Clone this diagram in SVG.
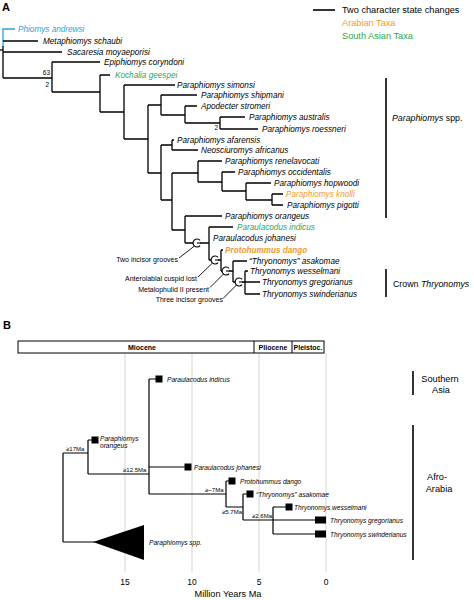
<svg xmlns="http://www.w3.org/2000/svg" width="474" height="600" viewBox="0 0 474 600">
<style>
text{font-family:"Liberation Sans",Arial,sans-serif;fill:#000}
.br{fill:none;stroke:#000;stroke-width:1.3}
.bb{fill:none;stroke:#000;stroke-width:1.2}
.tip{font-style:italic;font-size:8.2px}
.ann{font-size:7px;text-anchor:end}
.sup{font-size:6.5px;text-anchor:end}
.bar{stroke:#000;stroke-width:1.6}
.leg{font-size:9.2px}
.grp{font-size:8.8px}
.blbl{font-style:italic;font-size:6.6px}
.nl{font-size:6px}
.ep{font-size:7px;font-weight:bold;text-anchor:middle}
.grid{stroke:#dcdcdc;stroke-width:1.2}
.ax{font-size:8.5px;text-anchor:middle}
.reg{font-size:9.2px;text-anchor:middle}
.sq{fill:#000}
.blue{fill:#2f9fd9}
.orange{fill:#f29b2e}
.green{fill:#2fa650}
.circ{fill:#fff;stroke:#000;stroke-width:1.1}
</style>

<!-- Panel A -->
<text x="2" y="11" style="font-size:11px;font-weight:bold">A</text>

<g id="legend">
<line x1="313" y1="10" x2="335" y2="10" class="bar"/>
<text x="342" y="13" class="leg">Two character state changes</text>
<text x="342" y="26" class="leg orange">Arabian Taxa</text>
<text x="342" y="38.5" class="leg green">South Asian Taxa</text>
</g>

<g id="connectors-A">
<path d="M0,50 H3" class="br"/>
<path d="M3,46 V29 H15" fill="none" stroke="#2f9fd9" stroke-width="1.3"/>
<path d="M3,46 V78 M3,41 H38 M3,52 H62 M3,78 H52" class="br"/>
<path d="M52,62 V92 M52,62 H100 M52,92 H100" class="br"/>
<path d="M100,75 V112 M100,75 H110 M100,112 H124" class="br"/>
<path d="M124,85 V139 M124,85 H175 M124,139 H148" class="br"/>
<path d="M148,105 V173 M148,105 H161 M148,173 H161" class="br"/>
<path d="M161,95 V115 M161,95 H197 M161,115 H185" class="br"/>
<path d="M185,106 V123 M185,106 H197 M185,123 H220" class="br"/>
<path d="M220,117 V129 M220,117 H245 M220,129 H258" class="br"/>
<path d="M161,145 V200 M161,145 H172 M161,200 H172" class="br"/>
<path d="M172,140 V150 M172,140 H174 M172,150 H198" class="br"/>
<path d="M172,173 V230 M172,173 H198 M172,230 H185" class="br"/>
<path d="M198,161 V182 M198,161 H222 M198,182 H222" class="br"/>
<path d="M222,172 V191 M222,172 H235 M222,191 H246" class="br"/>
<path d="M246,183 V200 M246,183 H271 M246,200 H272" class="br"/>
<path d="M272,194 V205 M272,194 H283 M272,205 H283" class="br"/>
<path d="M185,216 V243 M185,216 H222 M185,243 H209" class="br"/>
<path d="M209,227 V260 M209,227 H233 M209,260 H221" class="br"/>
<path d="M221,250 V271 M221,250 H223 M221,271 H233" class="br"/>
<path d="M233,261 V282 M233,261 H247 M233,282 H245" class="br"/>
<path d="M245,271 V294 M245,271 H248 M245,282 H260 M245,294 H260" class="br"/>
<!-- annotation leaders -->
<path d="M194.5,246 L179,258 M212.5,263 L198,277 M223.5,274 L210,287.5 M236.5,285 L223,298.5" fill="none" stroke="#000" stroke-width="0.9"/>
</g>

<g id="support">
<text x="50" y="74.5" class="sup">63</text>
<text x="49" y="87" class="sup">2</text>
<text x="218" y="130" class="sup">2</text>
</g>

<g id="char-changes">
<path d="M200.1,240.4 A4,4 0 1 0 200.1,245.6" class="circ"/><line x1="197" y1="243" x2="201" y2="243" stroke="#000" stroke-width="1.1"/>
<path d="M218.1,257.4 A4,4 0 1 0 218.1,262.6" class="circ"/><line x1="215" y1="260" x2="219" y2="260" stroke="#000" stroke-width="1.1"/>
<path d="M229.1,268.4 A4,4 0 1 0 229.1,273.6" class="circ"/><line x1="226" y1="271" x2="230" y2="271" stroke="#000" stroke-width="1.1"/>
<path d="M242.1,279.4 A4,4 0 1 0 242.1,284.6" class="circ"/><line x1="239" y1="282" x2="243" y2="282" stroke="#000" stroke-width="1.1"/>
<text x="178" y="261.5" class="ann">Two incisor grooves</text>
<text x="197" y="281" class="ann">Anterolabial cuspid lost</text>
<text x="209" y="291.5" class="ann">Metalophulid II present</text>
<text x="223" y="302" class="ann">Three incisor grooves</text>
</g>

<g id="tips-A">
<g id="t-phiomys"><text x="18" y="32" class="tip blue">Phiomys andrewsi</text></g>
<g id="t-metaphiomys"><text x="43" y="44" class="tip">Metaphiomys schaubi</text></g>
<g id="t-sacaresia"><text x="67" y="55" class="tip">Sacaresia moyaeporisi</text></g>
<g id="t-epiphiomys"><text x="104" y="65" class="tip">Epiphiomys coryndoni</text></g>
<g id="t-kochalia"><text x="115" y="78" class="tip green">Kochalia geespei</text></g>
<g id="t-simonsi"><text x="177" y="88" class="tip">Paraphiomys simonsi</text></g>
<g id="t-shipmani"><text x="201" y="98" class="tip">Paraphiomys shipmani</text></g>
<g id="t-apodecter"><text x="201" y="109" class="tip">Apodecter stromeri</text></g>
<g id="t-australis"><text x="249" y="120" class="tip">Paraphiomys australis</text></g>
<g id="t-roessneri"><text x="262" y="132" class="tip">Paraphiomys roessneri</text></g>
<g id="t-afarensis"><text x="177" y="143" class="tip">Paraphiomys afarensis</text></g>
<g id="t-neosciuromys"><text x="201" y="153" class="tip">Neosciuromys africanus</text></g>
<g id="t-renelavocati"><text x="225" y="164" class="tip">Paraphiomys renelavocati</text></g>
<g id="t-occidentalis"><text x="238" y="175" class="tip">Paraphiomys occidentalis</text></g>
<g id="t-hopwoodi"><text x="274" y="186" class="tip">Paraphiomys hopwoodi</text></g>
<g id="t-knolli"><text x="286" y="197" class="tip orange">Paraphiomys knolli</text></g>
<g id="t-pigotti"><text x="287" y="208" class="tip">Paraphiomys pigotti</text></g>
<g id="t-orangeus"><text x="225" y="219" class="tip">Paraphiomys orangeus</text></g>
<g id="t-indicus"><text x="237" y="230" class="tip green">Paraulacodus indicus</text></g>
<g id="t-johanesi"><text x="213" y="241" class="tip">Paraulacodus johanesi</text></g>
<g id="t-protohummus"><text x="225" y="253" class="tip orange" font-weight="bold">Protohummus dango</text></g>
<g id="t-asakomae"><text x="249" y="264" class="tip">“Thryonomys” asakomae</text></g>
<g id="t-wesselmani"><text x="250" y="274" class="tip">Thryonomys wesselmani</text></g>
<g id="t-gregorianus"><text x="262" y="285" class="tip">Thryonomys gregorianus</text></g>
<g id="t-swinderianus"><text x="262" y="297" class="tip">Thryonomys swinderianus</text></g>
</g>

<g id="groups-A">
<line x1="386" y1="78" x2="386" y2="218" class="bar"/>
<text x="392" y="121" class="grp"><tspan font-style="italic">Paraphiomys</tspan> spp.</text>
<line x1="386" y1="269" x2="386" y2="297" class="bar"/>
<text x="393" y="287" class="grp">Crown <tspan font-style="italic">Thryonomys</tspan></text>
</g>

<!-- Panel B -->
<text x="3" y="329" style="font-size:11px;font-weight:bold">B</text>

<g id="timescale">
<line x1="125" y1="353" x2="125" y2="572" class="grid"/>
<line x1="192" y1="353" x2="192" y2="572" class="grid"/>
<line x1="259" y1="353" x2="259" y2="572" class="grid"/>
<line x1="326" y1="353" x2="326" y2="572" class="grid"/>
<rect x="18" y="341" width="306" height="12" fill="#fff" stroke="#000" stroke-width="1"/>
<line x1="254" y1="341" x2="254" y2="353" stroke="#000" stroke-width="1"/>
<line x1="292" y1="341" x2="292" y2="353" stroke="#000" stroke-width="1"/>
<text x="142" y="350" class="ep">Miocene</text>
<text x="273" y="350" class="ep">Pliocene</text>
<text x="308" y="350" class="ep">Pleistoc.</text>
<text x="125" y="585" class="ax">15</text>
<text x="192" y="585" class="ax">10</text>
<text x="259" y="585" class="ax">5</text>
<text x="326" y="585" class="ax">0</text>
<text x="228" y="597" style="font-size:9.2px;text-anchor:middle">Million Years Ma</text>
</g>

<g id="connectors-B">
<path d="M63,453 V542 M63,453 H88 M63,542 H95" class="bb"/>
<path d="M88,440 V474 M88,440 H92 M88,474 H149" class="bb"/>
<path d="M149,379 V494 M149,379 H156 M149,467 H185 M149,494 H226" class="bb"/>
<path d="M226,481 V507 M226,481 H229 M226,507 H243" class="bb"/>
<path d="M243,494 V520 M243,494 H247 M243,520 H273" class="bb"/>
<path d="M273,507 V534 M273,507 H286 M273,520 H315 M273,534 H315" class="bb"/>
</g>

<g id="node-labels-B">
<text x="66" y="451" class="nl">≥17Ma</text>
<text x="123" y="471.5" class="nl">≥12.5Ma</text>
<text x="205" y="491.5" class="nl">≥~7Ma</text>
<text x="222" y="514" class="nl">≥5.7Ma</text>
<text x="252" y="518" class="nl">≥2.6Ma</text>
</g>

<g id="tips-B">
<g id="b-indicus"><rect x="155.5" y="375.5" width="7" height="7" class="sq"/><text x="167" y="382" class="blbl">Paraulacodus indicus</text></g>
<g id="b-orangeus"><rect x="91.5" y="436.5" width="7" height="7" class="sq"/><text x="100" y="441" class="blbl">Paraphiomys</text><text x="100" y="448" class="blbl">orangeus</text></g>
<g id="b-johanesi"><rect x="184.5" y="463.5" width="7" height="7" class="sq"/><text x="194" y="469.5" class="blbl">Paraulacodus johanesi</text></g>
<g id="b-protohummus"><rect x="228.5" y="477.5" width="7" height="7" class="sq"/><text x="240" y="484" class="blbl">Protohummus dango</text></g>
<g id="b-asakomae"><rect x="246.5" y="490.5" width="7" height="7" class="sq"/><text x="256" y="496.5" class="blbl">“Thryonomys” asakomae</text></g>
<g id="b-wesselmani"><rect x="285.5" y="503.5" width="7" height="7" class="sq"/><text x="294" y="510" class="blbl">Thryonomys wesselmani</text></g>
<g id="b-gregorianus"><rect x="315" y="516.5" width="11" height="7" class="sq"/><text x="330" y="522.5" class="blbl">Thryonomys gregorianus</text></g>
<g id="b-swinderianus"><rect x="315" y="530.5" width="11" height="7" class="sq"/><text x="330" y="536.5" class="blbl">Thryonomys swinderianus</text></g>
<g id="b-paraphiomys"><polygon points="93,542 144,525 144,560" fill="#000"/><text x="149" y="545" class="blbl">Paraphiomys spp.</text></g>
</g>

<g id="regions-B">
<line x1="413" y1="371" x2="413" y2="395" class="bar"/>
<text x="440" y="382" class="reg">Southern</text>
<text x="441" y="393" class="reg">Asia</text>
<line x1="413" y1="425" x2="413" y2="560" class="bar"/>
<text x="437" y="480" class="reg">Afro-</text>
<text x="439" y="492" class="reg">Arabia</text>
</g>
</svg>
